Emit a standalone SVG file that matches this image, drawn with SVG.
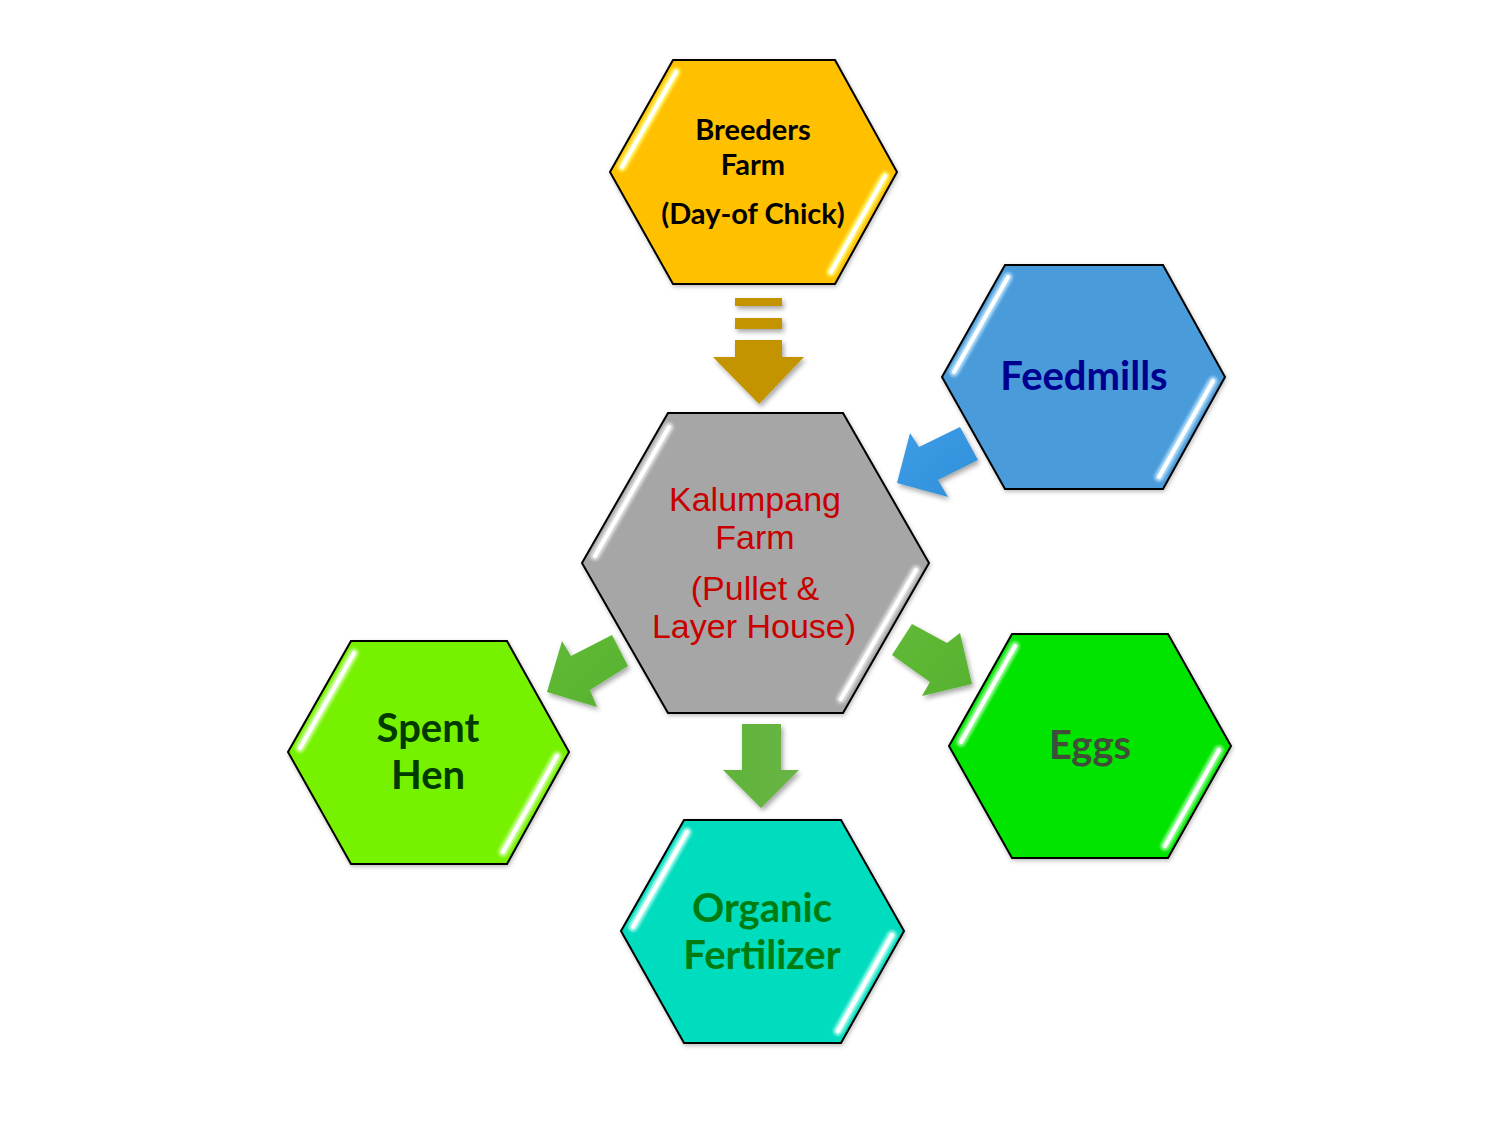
<svg xmlns="http://www.w3.org/2000/svg" width="1500" height="1125" viewBox="0 0 1500 1125">
  <defs>
    <filter id="shadow" x="-20%" y="-20%" width="140%" height="140%">
      <feDropShadow dx="2" dy="3" stdDeviation="2.5" flood-color="#000" flood-opacity="0.35"/>
    </filter>
    <filter id="hexshadow" x="-10%" y="-10%" width="120%" height="120%">
      <feDropShadow dx="1" dy="2" stdDeviation="2" flood-color="#000" flood-opacity="0.25"/>
    </filter>
    <filter id="glow" x="-30%" y="-30%" width="160%" height="160%">
      <feGaussianBlur stdDeviation="1.8"/>
    </filter>
    <linearGradient id="gBlue" x1="0" y1="0" x2="1" y2="1">
      <stop offset="0" stop-color="#3E9DE6"/>
      <stop offset="1" stop-color="#2F8FD8"/>
    </linearGradient>
    <linearGradient id="gGreen" x1="0" y1="0" x2="1" y2="1">
      <stop offset="0" stop-color="#60BA36"/>
      <stop offset="1" stop-color="#57B22F"/>
    </linearGradient>
    <linearGradient id="gGreenDown" x1="0" y1="0" x2="1" y2="0">
      <stop offset="0" stop-color="#5FB438"/>
      <stop offset="1" stop-color="#6AB446"/>
    </linearGradient>
  </defs>
  <style>
    .hex { stroke: #000; stroke-width: 2; stroke-linejoin: miter; }
    .hlg { fill: none; stroke-width: 9; stroke-linecap: round; opacity: 0.9; }
    .hl { fill: none; stroke: #fff; stroke-width: 4; stroke-linecap: round; }
    .cal { font-family: Lato, "Open Sans", "Liberation Sans", sans-serif; font-weight: bold; text-anchor: middle; }
    .ari { font-family: "Liberation Sans", Arial, sans-serif; text-anchor: middle; }
  </style>
  <rect width="1500" height="1125" fill="#fff"/>

  <g id="connectors">
    <g id="arrow-breeders" filter="url(#shadow)" fill="#C39300">
      <rect x="735" y="298" width="47" height="8"/>
      <rect x="735" y="318" width="47" height="11"/>
      <polygon points="735,340 782,340 782,357 804,357 759,404 713,357 735,357"/>
    </g>
    <polygon id="arrow-feedmills" filter="url(#shadow)" fill="url(#gBlue)" points="960,427 978,460 938,480 948,497 897,483 910,433 919,447"/>
    <polygon id="arrow-spent" filter="url(#shadow)" fill="url(#gGreen)" points="612,635 628,666 590,690 597,707 547,692 562,641 571,656"/>
    <polygon id="arrow-eggs" filter="url(#shadow)" fill="url(#gGreen)" points="912,624 947,643 960,633 972,684 922,696 930,682 892,655"/>
    <polygon id="arrow-organic" filter="url(#shadow)" fill="url(#gGreenDown)" points="742,724 781,724 781,770 799,770 761,808 723,770 742,770"/>
  </g>

  <g id="node-breeders">
    <polygon class="hex" filter="url(#hexshadow)" fill="#FFC000" points="610,172 673,60 835,60 897,172 835,284 673,284"/>
    <line class="hlg" stroke="#FFFF80" filter="url(#glow)" x1="676" y1="72" x2="622" y2="167"/>
    <line class="hl" x1="676" y1="72" x2="622" y2="167"/>
    <line class="hlg" stroke="#FFFF80" filter="url(#glow)" x1="885" y1="176" x2="831" y2="272"/>
    <line class="hl" x1="885" y1="176" x2="831" y2="272"/>
    <text class="cal" font-size="29" fill="#000" x="753" y="140">Breeders</text>
    <text class="cal" font-size="29" fill="#000" x="753" y="175">Farm</text>
    <text class="cal" font-size="29" fill="#000" x="753" y="224">(Day-of Chick)</text>
  </g>

  <g id="node-feedmills">
    <polygon class="hex" filter="url(#hexshadow)" fill="#4A9BDA" points="942,377 1005,265 1163,265 1225,377 1163,489 1005,489"/>
    <line class="hlg" stroke="#BFE6FF" filter="url(#glow)" x1="1008" y1="277" x2="954" y2="372"/>
    <line class="hl" x1="1008" y1="277" x2="954" y2="372"/>
    <line class="hlg" stroke="#BFE6FF" filter="url(#glow)" x1="1213" y1="381" x2="1159" y2="477"/>
    <line class="hl" x1="1213" y1="381" x2="1159" y2="477"/>
    <text class="cal" font-size="40" fill="#000090" x="1084" y="390">Feedmills</text>
  </g>

  <g id="node-kalumpang">
    <polygon class="hex" filter="url(#hexshadow)" fill="#A6A6A6" points="582,563 668,413 843,413 929,563 843,713 668,713"/>
    <line class="hlg" stroke="#E8E8E8" filter="url(#glow)" x1="669" y1="427" x2="595" y2="556"/>
    <line class="hl" x1="669" y1="427" x2="595" y2="556"/>
    <line class="hlg" stroke="#E8E8E8" filter="url(#glow)" x1="916" y1="570" x2="841" y2="699"/>
    <line class="hl" x1="916" y1="570" x2="841" y2="699"/>
    <text class="ari" font-size="34" fill="#C80000" x="755" y="511">Kalumpang</text>
    <text class="ari" font-size="34" fill="#C80000" x="755" y="549">Farm</text>
    <text class="ari" font-size="34" fill="#C80000" x="755" y="600">(Pullet &amp;</text>
    <text class="ari" font-size="34" fill="#C80000" x="754" y="638">Layer House)</text>
  </g>

  <g id="node-spent-hen">
    <polygon class="hex" filter="url(#hexshadow)" fill="#76F204" points="288,752 351,641 507,641 569,752 507,864 351,864"/>
    <line class="hlg" stroke="#D8FFB0" filter="url(#glow)" x1="354" y1="653" x2="300" y2="748"/>
    <line class="hl" x1="354" y1="653" x2="300" y2="748"/>
    <line class="hlg" stroke="#D8FFB0" filter="url(#glow)" x1="557" y1="756" x2="503" y2="852"/>
    <line class="hl" x1="557" y1="756" x2="503" y2="852"/>
    <text class="cal" font-size="40" fill="#003A00" x="428" y="742">Spent</text>
    <text class="cal" font-size="40" fill="#003A00" x="428" y="789">Hen</text>
  </g>

  <g id="node-eggs">
    <polygon class="hex" filter="url(#hexshadow)" fill="#00E400" points="949,746 1012,634 1168,634 1231,746 1168,858 1012,858"/>
    <line class="hlg" stroke="#B0FFB0" filter="url(#glow)" x1="1015" y1="646" x2="961" y2="742"/>
    <line class="hl" x1="1015" y1="646" x2="961" y2="742"/>
    <line class="hlg" stroke="#B0FFB0" filter="url(#glow)" x1="1219" y1="750" x2="1165" y2="846"/>
    <line class="hl" x1="1219" y1="750" x2="1165" y2="846"/>
    <text class="cal" font-size="40" fill="#3F4D39" x="1090" y="759">Eggs</text>
  </g>

  <g id="node-organic">
    <polygon class="hex" filter="url(#hexshadow)" fill="#05DCBE" points="621,931 684,820 841,820 904,931 841,1043 684,1043"/>
    <line class="hlg" stroke="#C0FFF4" filter="url(#glow)" x1="687" y1="832" x2="633" y2="927"/>
    <line class="hl" x1="687" y1="832" x2="633" y2="927"/>
    <line class="hlg" stroke="#C0FFF4" filter="url(#glow)" x1="892" y1="935" x2="838" y2="1031"/>
    <line class="hl" x1="892" y1="935" x2="838" y2="1031"/>
    <text class="cal" font-size="40" fill="#007C10" x="762" y="922">Organic</text>
    <text class="cal" font-size="40" fill="#007C10" x="762" y="969">Fertilizer</text>
  </g>
</svg>
